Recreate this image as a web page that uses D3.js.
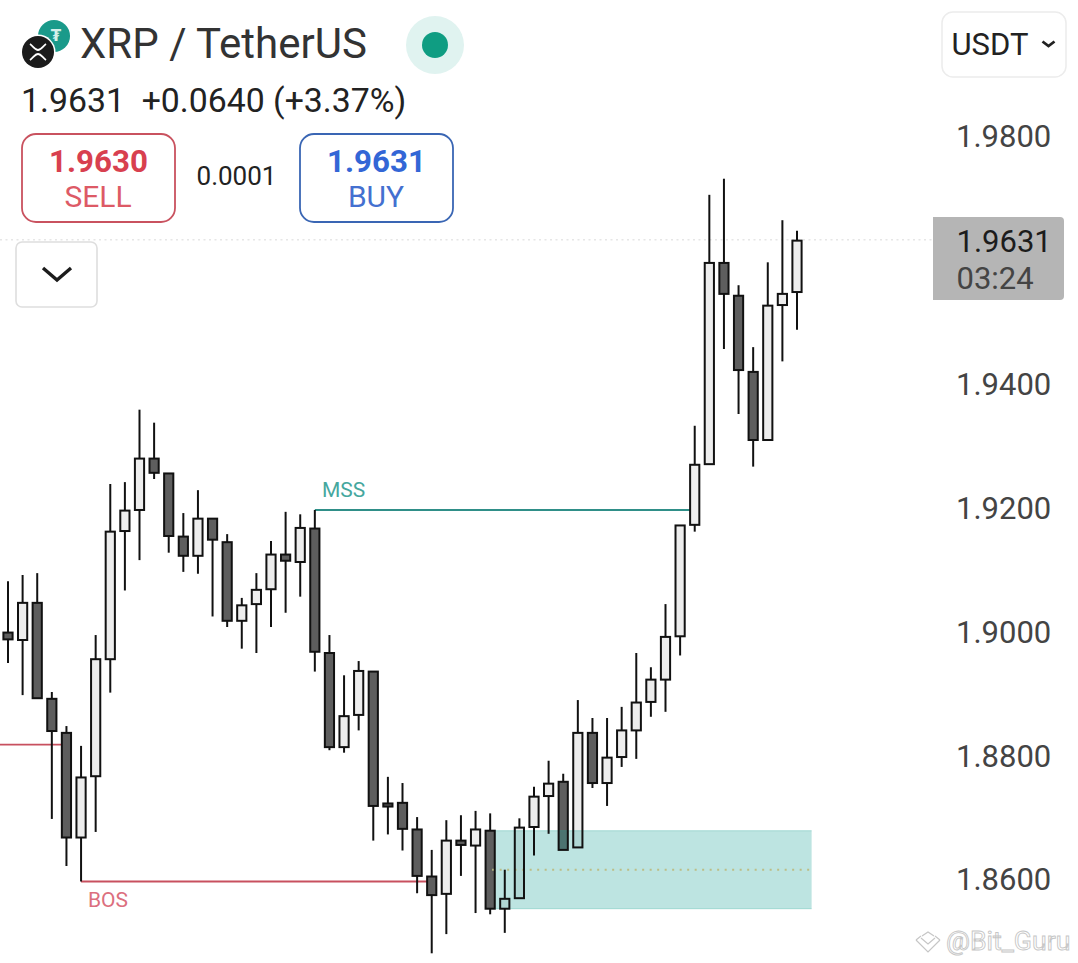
<!DOCTYPE html>
<html>
<head>
<meta charset="utf-8">
<script src="https://cdnjs.cloudflare.com/ajax/libs/d3/7.8.5/d3.min.js"></script>
<style>
  html, body { margin: 0; padding: 0; background: #fff; }
  svg { display: block; font-family: Roboto, sans-serif; }
  .axis path, .axis line { display: none; }
  .axis text { font-family: Roboto, sans-serif; font-size: 31px; fill: #444; }
</style>
</head>
<body>
<svg id="chart" width="1078" height="963"></svg>
<script>
// candle values
const opens = [1.8998,1.8986,1.9046,1.8891,1.8836,1.8667,1.8766,1.8955,1.9162,1.9196,1.9279,1.9255,1.9153,1.9122,1.9182,1.9144,1.9017,1.9044,1.9068,1.9124,1.9112,1.9166,1.8965,1.8813,1.8865,1.8935,1.8722,1.8723,1.8680,1.8604,1.8576,1.8662,1.8654,1.8678,1.8552,1.8569,1.8684,1.8734,1.8757,1.8651,1.8836,1.8755,1.8797,1.8840,1.8886,1.8922,1.8992,1.9172,1.9270,1.9595,1.9542,1.9419,1.9309,1.9527,1.9548];
const closes = [1.8987,1.9046,1.8892,1.8839,1.8667,1.8764,1.8955,1.9161,1.9195,1.9279,1.9256,1.9154,1.9122,1.9182,1.9148,1.9017,1.9042,1.9067,1.9124,1.9114,1.9167,1.8967,1.8813,1.8863,1.8936,1.8718,1.8717,1.8681,1.8605,1.8574,1.8662,1.8655,1.8680,1.8552,1.8568,1.8683,1.8733,1.8754,1.8647,1.8836,1.8755,1.8796,1.8840,1.8885,1.8922,1.8991,1.9171,1.9269,1.9595,1.9545,1.9422,1.9309,1.9526,1.9545,1.9631];
const highs = [1.9081,1.9091,1.9094,1.8902,1.8847,1.8815,1.8994,1.9238,1.9241,1.9358,1.9337,1.9255,1.9191,1.9228,1.9182,1.9157,1.9054,1.9094,1.9146,1.9193,1.9189,1.9196,1.8994,1.8929,1.8952,1.8935,1.8765,1.8755,1.8700,1.8647,1.8695,1.8703,1.8710,1.8706,1.8615,1.8698,1.8749,1.8791,1.8770,1.8889,1.8860,1.8860,1.8878,1.8965,1.8942,1.9044,1.9171,1.9332,1.9705,1.9731,1.9559,1.9459,1.9596,1.9664,1.9647];
const lows = [1.8949,1.8897,1.8891,1.8697,1.8621,1.8596,1.8676,1.8901,1.9066,1.9115,1.9246,1.9127,1.9096,1.9093,1.9024,1.9007,1.8972,1.8965,1.9007,1.9030,1.9056,1.8935,1.8808,1.8804,1.8840,1.8662,1.8672,1.8646,1.8577,1.8480,1.8511,1.8605,1.8545,1.8543,1.8513,1.8569,1.8638,1.8673,1.8647,1.8651,1.8747,1.8718,1.8781,1.8794,1.8862,1.8870,1.8961,1.9161,1.9270,1.9456,1.9351,1.9266,1.9309,1.9436,1.9487];
const priceTicks = [1.98, 1.94, 1.92, 1.90, 1.88, 1.86];
const lastPrice = 1.9631;

const svg = d3.select("#chart");

const x = d3.scaleLinear().domain([0, 54]).range([8, 797]);
const y = d3.scaleLinear().domain([1.86, 1.98]).range([879, 136]);
const bodyW = 9.2;
const ink = "#111";
const inkW = 2;

// last price dotted line
svg.append("line")
  .attr("x1", 0).attr("x2", 933)
  .attr("y1", y(lastPrice) - 1).attr("y2", y(lastPrice) - 1)
  .attr("stroke", "#e6e6e6").attr("stroke-width", 1.5)
  .attr("stroke-dasharray", "2 3.5");

const idx = d3.range(opens.length);
const bodyTop = d => y(Math.max(opens[d], closes[d]));
const bodyBottom = d => y(Math.min(opens[d], closes[d]));

// body fills go under the zone, outlines and wicks over it
svg.append("g").selectAll("rect").data(idx).join("rect")
  .attr("x", d => x(d) - bodyW / 2)
  .attr("width", bodyW)
  .attr("y", bodyTop)
  .attr("height", d => bodyBottom(d) - bodyTop(d))
  .attr("fill", d => closes[d] < opens[d] ? "#5e5e5e" : "#ededed");

// structure lines
const levels = [
  { from: -2, to: 3.7, price: 1.8817, color: "#c8505f" },
  { from: 5, to: 28.7, price: 1.8596, color: "#c8505f" },
  { from: 21, to: 46.7, price: 1.9196, color: "#2f8f88" }
];
svg.append("g").selectAll("line").data(levels).join("line")
  .attr("x1", d => x(d.from)).attr("x2", d => x(d.to))
  .attr("y1", d => y(d.price)).attr("y2", d => y(d.price))
  .attr("stroke", d => d.color).attr("stroke-width", 1.9);

svg.append("text").text("MSS").attr("x", 322).attr("y", 497)
  .attr("font-size", 21).attr("fill", "#45a79e");
svg.append("text").text("BOS").attr("x", 88).attr("y", 906.5)
  .attr("font-size", 21).attr("fill", "#dc6f7e");

// demand zone
const zoneLeft = x(33) + bodyW / 2;
svg.append("rect")
  .attr("x", zoneLeft).attr("width", x(55) - zoneLeft)
  .attr("y", y(1.8678)).attr("height", y(1.8552) - y(1.8678))
  .attr("fill", "#26a69a").attr("fill-opacity", 0.3);
[1.8678, 1.8552].forEach(p => {
  svg.append("line")
    .attr("x1", zoneLeft).attr("x2", x(55))
    .attr("y1", y(p)).attr("y2", y(p))
    .attr("stroke", "#26a69a").attr("stroke-opacity", 0.25).attr("stroke-width", 1.3);
});
svg.append("line")
  .attr("x1", x(33) + 2).attr("x2", x(55))
  .attr("y1", y(1.8615)).attr("y2", y(1.8615))
  .attr("stroke", "#bdbd85").attr("stroke-width", 2)
  .attr("stroke-dasharray", "2 5.5");

const candles = svg.append("g");

candles.selectAll("line.upper").data(idx).join("line")
  .attr("class", "upper")
  .attr("x1", d => x(d)).attr("x2", d => x(d))
  .attr("y1", d => y(highs[d])).attr("y2", bodyTop)
  .attr("stroke", ink).attr("stroke-width", inkW);

candles.selectAll("line.lower").data(idx).join("line")
  .attr("class", "lower")
  .attr("x1", d => x(d)).attr("x2", d => x(d))
  .attr("y1", bodyBottom).attr("y2", d => y(lows[d]))
  .attr("stroke", ink).attr("stroke-width", inkW);

candles.selectAll("rect").data(idx).join("rect")
  .attr("x", d => x(d) - bodyW / 2)
  .attr("width", bodyW)
  .attr("y", bodyTop)
  .attr("height", d => bodyBottom(d) - bodyTop(d))
  .attr("fill", "none")
  .attr("stroke", ink).attr("stroke-width", inkW);

// price axis
const axis = d3.axisRight(y).tickValues(priceTicks).tickSize(0).tickPadding(0).tickFormat(d3.format(".4f"));
svg.append("g").attr("class", "axis")
  .attr("transform", "translate(956,0)")
  .call(axis)
  .selectAll("text").attr("dy", "0.35em");

// last price tag
svg.append("path")
  .attr("d", "M933,217H1060a4,4 0 0 1 4,4V296a4,4 0 0 1 -4,4H933Z")
  .attr("fill", "#b5b5b5");
svg.append("text").text(d3.format(".4f")(lastPrice)).attr("x", 956.5).attr("y", 252)
  .attr("font-size", 31).attr("fill", "#1c1c1c");
svg.append("text").text("03:24").attr("x", 956.5).attr("y", 289)
  .attr("font-size", 31).attr("fill", "#444");

// USDT dropdown
svg.append("rect").attr("x", 942).attr("y", 12).attr("width", 124).attr("height", 65).attr("rx", 11)
  .attr("fill", "#fff").attr("stroke", "#ececec").attr("stroke-width", 1.5);
svg.append("text").text("USDT").attr("x", 951.5).attr("y", 55)
  .attr("font-size", 31).attr("fill", "#222");
svg.append("path").attr("d", "M1042.5,41.5l6,4.5l6,-4.5")
  .attr("fill", "none").attr("stroke", "#222").attr("stroke-width", 2.8);

// header icons
svg.append("circle").attr("cx", 54).attr("cy", 36).attr("r", 16).attr("fill", "#1a9a8a");
svg.append("text").text("₮").attr("x", 56).attr("y", 41).attr("text-anchor", "middle")
  .attr("font-size", 15).attr("font-weight", 700).attr("fill", "#d5efe9").attr("font-family", "DejaVu Sans");
svg.append("circle").attr("cx", 38).attr("cy", 52).attr("r", 17.5).attr("fill", "#fff");
svg.append("circle").attr("cx", 38).attr("cy", 52).attr("r", 16).attr("fill", "#1b1b1b");
svg.append("path")
  .attr("d", "M30,44c3,2 5,6 8,6s5,-4 8,-6M30,60c3,-2 5,-6 8,-6s5,4 8,6")
  .attr("fill", "none").attr("stroke", "#fff").attr("stroke-width", 1.8);

svg.append("text").text("XRP / TetherUS").attr("x", 80).attr("y", 58)
  .attr("font-size", 42).attr("fill", "#333");
svg.append("circle").attr("cx", 435).attr("cy", 45).attr("r", 29).attr("fill", "#e0f3f0");
svg.append("circle").attr("cx", 435).attr("cy", 45).attr("r", 13).attr("fill", "#0f9d82");

svg.append("text").attr("x", 21).attr("y", 112).attr("font-size", 33.8).attr("fill", "#222")
  .attr("xml:space", "preserve").text("1.9631  +0.0640 (+3.37%)");

// sell and buy buttons
const buttons = [
  { x: 22, price: "1.9630", label: "SELL", border: "#c9525f", main: "#d8404f", sub: "#dd5a66" },
  { x: 300, price: "1.9631", label: "BUY", border: "#3a66b4", main: "#3366d6", sub: "#4470d0" }
];
buttons.forEach(b => {
  svg.append("rect").attr("x", b.x).attr("y", 134).attr("width", 153).attr("height", 88).attr("rx", 14)
    .attr("fill", "#fff").attr("stroke", b.border).attr("stroke-width", 1.8);
  svg.append("text").text(b.price).attr("x", b.x + 76.5).attr("y", 172).attr("text-anchor", "middle")
    .attr("font-size", 31.3).attr("font-weight", 700).attr("fill", b.main);
  svg.append("text").text(b.label).attr("x", b.x + 76).attr("y", 207).attr("text-anchor", "middle")
    .attr("font-size", 30).attr("fill", b.sub);
});
svg.append("text").text("0.0001").attr("x", 236.5).attr("y", 185).attr("text-anchor", "middle")
  .attr("font-size", 26).attr("fill", "#222");

// collapse button
svg.append("rect").attr("x", 16).attr("y", 242).attr("width", 81).attr("height", 65).attr("rx", 6)
  .attr("fill", "#fff").attr("stroke", "#dedede").attr("stroke-width", 1.6);
svg.append("path").attr("d", "M43,268l14,12l14,-12")
  .attr("fill", "none").attr("stroke", "#1c1c1c").attr("stroke-width", 3.4);

// watermark
svg.append("text").text("@Bit_Guru").attr("x", 946).attr("y", 950)
  .attr("font-size", 26.7).attr("fill", "#fff").attr("stroke", "#c6c6c6").attr("stroke-width", 0.9);
svg.append("g").attr("fill", "none").attr("stroke", "#c6c6c6").attr("stroke-width", 1.2)
  .selectAll("path")
  .data(["M916,940l12,12l12,-12", "M921,938l7,6l7,-6", "M916,940l5,-4M940,940l-5,-4", "M922,936l6,-4l6,4"])
  .join("path").attr("d", d => d);
</script>
</body>
</html>
